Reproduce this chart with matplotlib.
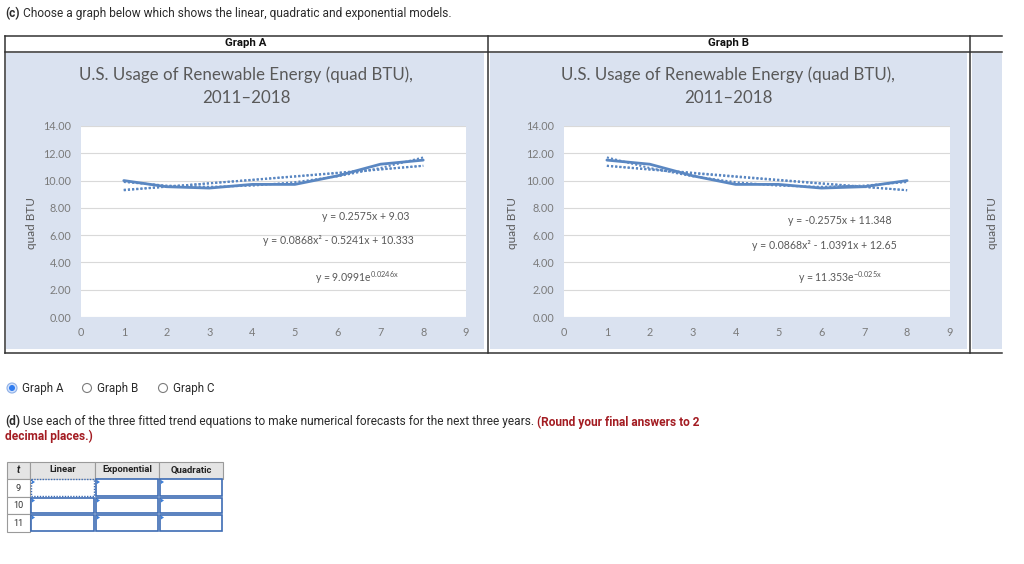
import matplotlib.pyplot as plt
from matplotlib.patches import Rectangle, Circle, Polygon
import numpy as np

plt.rcParams['font.family'] = ['Roboto', 'DejaVu Sans']

# Data (t = 1..8, years 2011-2018)
t_vals = [1, 2, 3, 4, 5, 6, 7, 8]
usage_a = [10.0, 9.55, 9.45, 9.72, 9.72, 10.35, 11.2, 11.5]
usage_b = [11.5, 11.2, 10.35, 9.72, 9.72, 9.45, 9.55, 10.0]

# Trend equations printed on the charts
lin_a = [0.2575, 9.03]
quad_a = [0.0868, -0.5241, 10.333]
exp_a = [9.0991, 0.0246]
lin_b = [-0.2575, 11.348]
quad_b = [0.0868, -1.0391, 12.65]
exp_b = [11.353, -0.025]

eq_a = ['y = 0.2575x + 9.03',
        'y = 0.0868x² - 0.5241x + 10.333',
        r'y = 9.0991e$\mathregular{^{0.0246x}}$']
eq_b = ['y = -0.2575x + 11.348',
        'y = 0.0868x² - 1.0391x + 12.65',
        r'y = 11.353e$\mathregular{^{-0.025x}}$']

y_ticks = [0, 2, 4, 6, 8, 10, 12, 14]
x_ticks = [0, 1, 2, 3, 4, 5, 6, 7, 8, 9]
forecast_t = ['9', '10', '11']
table_cols = ['Linear', 'Exponential', 'Quadratic']
radio_labels = ['Graph A', 'Graph B', 'Graph C']

W, H = 1024, 564
TXT = '#2b2b2b'
RED = '#a31c22'
CHART_BG = '#dae2f0'
LINE = '#5a87c2'
GRAY = '#595959'
CHART_FONT = ['Lato', 'DejaVu Sans']
PAGE_SIZE = 8.6

fig = plt.figure(figsize=(W / 100, H / 100), dpi=100, facecolor='white')
bg = fig.add_axes([0, 0, 1, 1])
bg.set_xlim(0, W)
bg.set_ylim(H, 0)
bg.axis('off')
renderer = fig.canvas.get_renderer()


def text_run(x, y, parts, size):
    # draw pieces of text one after the other on the same line
    for s, weight, color in parts:
        t = bg.text(x, y, s, fontsize=size, fontweight=weight, color=color,
                    ha='left', va='center')
        x += t.get_window_extent(renderer=renderer).width


# question (c)
text_run(5, 14, [('(c)', 'bold', TXT),
                 (' Choose a graph below which shows the linear, quadratic and exponential models.',
                  'normal', TXT)], PAGE_SIZE)

# outer table with the graphs
for yy in [36, 51.5, 353]:
    bg.plot([5, 1002], [yy, yy], color='#333333', lw=1.1)
for xx in [5, 487.5, 970]:
    bg.plot([xx, xx], [36, 353], color='#333333', lw=1.1)
bg.text(246, 43.5, 'Graph A', fontsize=8.2, fontweight='bold', ha='center', va='center', color='#111')
bg.text(728, 43.5, 'Graph B', fontsize=8.2, fontweight='bold', ha='center', va='center', color='#111')

for x0, x1 in [(6, 484), (490, 967), (972, 1002)]:
    bg.add_patch(Rectangle((x0, 53), x1 - x0, 296, color=CHART_BG, lw=0))
bg.text(993, 223, 'quad BTU', rotation=90, fontsize=8.5, color=GRAY,
        ha='center', va='center', family=CHART_FONT)


def draw_chart(px, usage, lin, quad, expo, eqs, eq_pos, title_x, ylab_x):
    x0, y0, x1, y1 = px
    ax = fig.add_axes([x0 / W, 1 - y1 / H, (x1 - x0) / W, (y1 - y0) / H])
    ax.set_facecolor('white')
    t = np.array(t_vals)
    ax.plot(t, usage, color=LINE, lw=2, solid_capstyle='round', zorder=3)
    ax.plot(t, np.polyval(lin, t), color=LINE, lw=1.5, ls=(0, (1, 1)), zorder=4)
    ax.plot(t, np.polyval(quad, t), color=LINE, lw=1.5, ls=(0, (1, 1)), zorder=4)
    ax.plot(t, expo[0] * np.exp(expo[1] * t), color=LINE, lw=1.5, ls=(0, (1, 1)), zorder=4)
    ax.set_xlim(0, 9)
    ax.set_ylim(0, 14)
    ax.set_yticks(y_ticks)
    ax.set_yticklabels([f'{v:.2f}' for v in y_ticks])
    ax.set_xticks(x_ticks)
    ax.tick_params(length=0, labelsize=7.8, labelcolor='#7a7a7a', pad=7)
    for lab in ax.get_xticklabels() + ax.get_yticklabels():
        lab.set_family(CHART_FONT)
    ax.grid(axis='y', color='#d9d9d9', lw=0.8)
    ax.set_axisbelow(True)
    for s in ax.spines.values():
        s.set_visible(False)
    ax.set_ylabel('quad BTU', fontsize=8.5, color=GRAY, family=CHART_FONT)
    ax.yaxis.set_label_coords(ylab_x, 0.49)
    for txt, (ex, ey) in zip(eqs, eq_pos):
        ax.text(ex, ey, txt, transform=ax.transAxes, fontsize=7.6, color=GRAY,
                ha='center', va='center', family=CHART_FONT)
    bg.text(title_x, 75, 'U.S. Usage of Renewable Energy (quad BTU),', fontsize=12.2,
            color=GRAY, ha='center', va='center', family=CHART_FONT)
    bg.text(title_x, 98, '2011–2018', fontsize=12.2, color=GRAY,
            ha='center', va='center', family=CHART_FONT)
    return ax


draw_chart((81, 126, 466, 317), usage_a, lin_a, quad_a, exp_a, eq_a,
           [(0.740, 0.524), (0.668, 0.398), (0.717, 0.204)], 246, -0.115)
draw_chart((564, 126, 950, 317), usage_b, lin_b, quad_b, exp_b, eq_b,
           [(0.715, 0.503), (0.674, 0.372), (0.715, 0.204)], 728, -0.120)

# radio buttons
for i, (rx, lab) in enumerate(zip([12, 87, 163], radio_labels)):
    if i == 0:
        bg.add_patch(Circle((rx, 388), 5, facecolor='#d3e2fb', edgecolor='#8fb0e6', lw=0.8))
        bg.add_patch(Circle((rx, 388), 3, facecolor='#2f7cf0', lw=0))
    else:
        bg.add_patch(Circle((rx, 388), 4.5, facecolor='white', edgecolor='#7d7d7d', lw=0.8))
    bg.text(rx + 10, 388.5, lab, fontsize=8.4, color=TXT, ha='left', va='center')

# question (d)
text_run(5, 422, [('(d)', 'bold', TXT),
                  (' Use each of the three fitted trend equations to make numerical forecasts for the next three years.',
                   'normal', TXT),
                  (' (Round your final answers to 2', 'bold', RED)], PAGE_SIZE)
bg.text(5, 436, 'decimal places.)', fontsize=PAGE_SIZE, fontweight='bold', color=RED,
        ha='left', va='center')

# forecast table
col_x = [7, 30, 95, 159, 223]
row_y = [462, 478.5, 497, 514, 531.5]
for j in range(4):
    bg.add_patch(Rectangle((col_x[j], row_y[0]), col_x[j + 1] - col_x[j], row_y[1] - row_y[0],
                           facecolor='#e4e4e4', edgecolor='#9a9a9a', lw=0.8))
bg.text((col_x[0] + col_x[1]) / 2, 470, 't', fontsize=7, fontweight='bold', style='italic',
        ha='center', va='center', color='#222')
for j, name in enumerate(table_cols):
    bg.text((col_x[j + 1] + col_x[j + 2]) / 2, 470, name, fontsize=6.8, fontweight='bold',
            ha='center', va='center', color='#222')
for i, lab in enumerate(forecast_t):
    ya, yb = row_y[i + 1], row_y[i + 2]
    bg.add_patch(Rectangle((col_x[0], ya), col_x[1] - col_x[0], yb - ya,
                           facecolor='white', edgecolor='#9a9a9a', lw=0.8))
    bg.text((col_x[0] + col_x[1]) / 2, (ya + yb) / 2 + 0.5, lab, fontsize=6.6,
            ha='center', va='center', color='#333')
    for j in range(3):
        xa, xb = col_x[j + 1], col_x[j + 2]
        focused = (i == 0 and j == 0)
        bg.add_patch(Rectangle((xa + 0.8, ya + 0.8), xb - xa - 1.6, yb - ya - 1.6,
                               facecolor='white', edgecolor='#3d6cb4',
                               lw=1.0 if focused else 1.2,
                               ls=(0, (1, 1)) if focused else '-'))
        bg.add_patch(Polygon([[xa + 2, ya + 1.5], [xa + 5, ya + 3.5], [xa + 2, ya + 5.5]],
                             closed=True, facecolor='#3d7fd8', lw=0))

fig.savefig('out.png', dpi=100, facecolor='white')
